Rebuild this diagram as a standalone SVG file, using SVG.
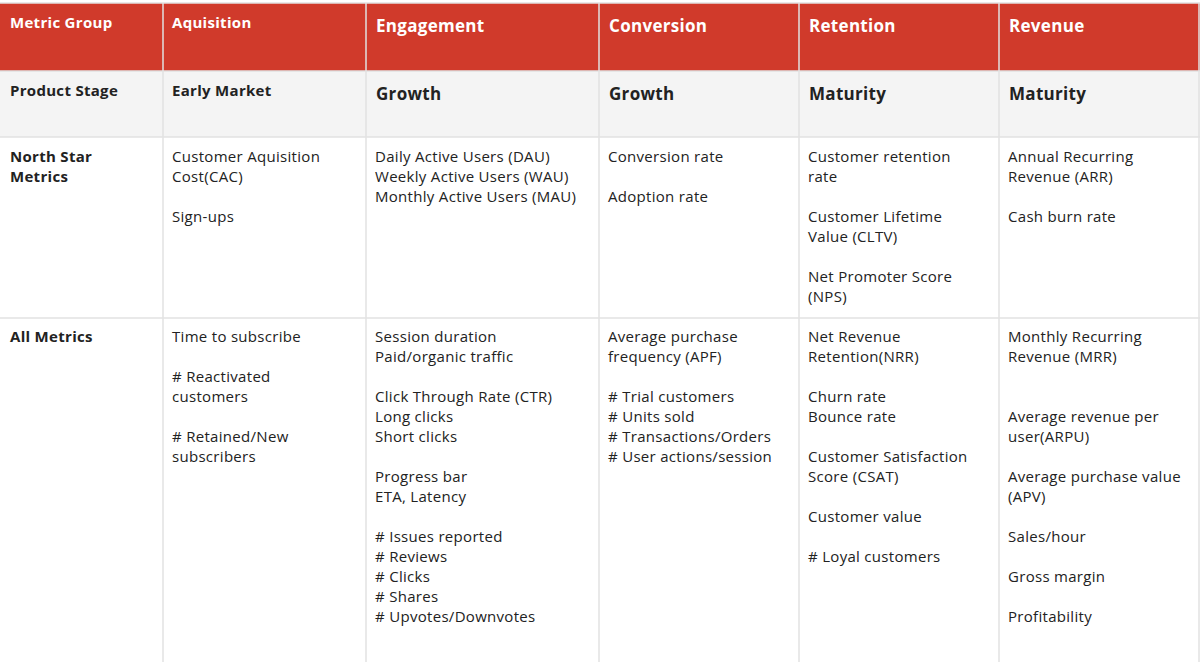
<svg xmlns="http://www.w3.org/2000/svg" width="1200" height="662" viewBox="0 0 1200 662">
<style>
text{font-family:"Open Sans","Liberation Sans",sans-serif;font-size:15px;fill:#222;letter-spacing:0.3px}
.h{fill:#fff;font-weight:bold}
.hb{font-size:17px}
.b{font-weight:bold}
.g{stroke:#e2e2e2;stroke-width:1.5}
</style>
<rect x="0" y="0" width="1200" height="662" fill="#fff"/>
<rect x="0" y="3" width="1200" height="68" fill="#d03a2b"/>
<rect x="0" y="71" width="1200" height="66" fill="#f4f4f4"/>
<g id="grid">
<line class="g" x1="0" y1="3" x2="1200" y2="3"/>
<line class="g" x1="0" y1="71" x2="1200" y2="71"/>
<line class="g" x1="0" y1="137" x2="1200" y2="137"/>
<line class="g" x1="0" y1="318" x2="1200" y2="318"/>
<line class="g" x1="163" y1="3" x2="163" y2="662"/>
<line class="g" x1="366" y1="3" x2="366" y2="662"/>
<line class="g" x1="599" y1="3" x2="599" y2="662"/>
<line class="g" x1="799" y1="3" x2="799" y2="662"/>
<line class="g" x1="999" y1="3" x2="999" y2="662"/>
<line class="g" x1="1199" y1="3" x2="1199" y2="662"/>
</g>
<g id="header">
<text class="h" x="10" y="28">Metric Group</text>
<text class="h" x="172" y="28">Aquisition</text>
<text class="h hb" x="376" y="32">Engagement</text>
<text class="h hb" x="609" y="32">Conversion</text>
<text class="h hb" x="809" y="32">Retention</text>
<text class="h hb" x="1009" y="32">Revenue</text>
</g>
<g id="stage">
<text class="b" x="10" y="96">Product Stage</text>
<text class="b" x="172" y="96">Early Market</text>
<text class="b hb" x="376" y="100">Growth</text>
<text class="b hb" x="609" y="100">Growth</text>
<text class="b hb" x="809" y="100">Maturity</text>
<text class="b hb" x="1009" y="100">Maturity</text>
</g>
<g id="northstar">
<text class="b" x="10" y="162">North Star<tspan x="10" dy="20">Metrics</tspan></text>
<text x="172" y="162">Customer Aquisition<tspan x="172" dy="20">Cost(CAC)</tspan><tspan x="172" dy="40">Sign-ups</tspan></text>
<text x="375" y="162">Daily Active Users (DAU)<tspan x="375" dy="20">Weekly Active Users (WAU)</tspan><tspan x="375" dy="20">Monthly Active Users (MAU)</tspan></text>
<text x="608" y="162">Conversion rate<tspan x="608" dy="40">Adoption rate</tspan></text>
<text x="808" y="162">Customer retention<tspan x="808" dy="20">rate</tspan><tspan x="808" dy="40">Customer Lifetime</tspan><tspan x="808" dy="20">Value (CLTV)</tspan><tspan x="808" dy="40">Net Promoter Score</tspan><tspan x="808" dy="20">(NPS)</tspan></text>
<text x="1008" y="162">Annual Recurring<tspan x="1008" dy="20">Revenue (ARR)</tspan><tspan x="1008" dy="40">Cash burn rate</tspan></text>
</g>
<g id="allmetrics">
<text class="b" x="10" y="342">All Metrics</text>
<text x="172" y="342">Time to subscribe<tspan x="172" dy="40"># Reactivated</tspan><tspan x="172" dy="20">customers</tspan><tspan x="172" dy="40"># Retained/New</tspan><tspan x="172" dy="20">subscribers</tspan></text>
<text x="375" y="342">Session duration<tspan x="375" dy="20">Paid/organic traffic</tspan><tspan x="375" dy="40">Click Through Rate (CTR)</tspan><tspan x="375" dy="20">Long clicks</tspan><tspan x="375" dy="20">Short clicks</tspan><tspan x="375" dy="40">Progress bar</tspan><tspan x="375" dy="20">ETA, Latency</tspan><tspan x="375" dy="40"># Issues reported</tspan><tspan x="375" dy="20"># Reviews</tspan><tspan x="375" dy="20"># Clicks</tspan><tspan x="375" dy="20"># Shares</tspan><tspan x="375" dy="20"># Upvotes/Downvotes</tspan></text>
<text x="608" y="342">Average purchase<tspan x="608" dy="20">frequency (APF)</tspan><tspan x="608" dy="40"># Trial customers</tspan><tspan x="608" dy="20"># Units sold</tspan><tspan x="608" dy="20"># Transactions/Orders</tspan><tspan x="608" dy="20"># User actions/session</tspan></text>
<text x="808" y="342">Net Revenue<tspan x="808" dy="20">Retention(NRR)</tspan><tspan x="808" dy="40">Churn rate</tspan><tspan x="808" dy="20">Bounce rate</tspan><tspan x="808" dy="40">Customer Satisfaction</tspan><tspan x="808" dy="20">Score (CSAT)</tspan><tspan x="808" dy="40">Customer value</tspan><tspan x="808" dy="40"># Loyal customers</tspan></text>
<text x="1008" y="342">Monthly Recurring<tspan x="1008" dy="20">Revenue (MRR)</tspan><tspan x="1008" dy="60">Average revenue per</tspan><tspan x="1008" dy="20">user(ARPU)</tspan><tspan x="1008" dy="40">Average purchase value</tspan><tspan x="1008" dy="20">(APV)</tspan><tspan x="1008" dy="40">Sales/hour</tspan><tspan x="1008" dy="40">Gross margin</tspan><tspan x="1008" dy="40">Profitability</tspan></text>
</g>
</svg>
